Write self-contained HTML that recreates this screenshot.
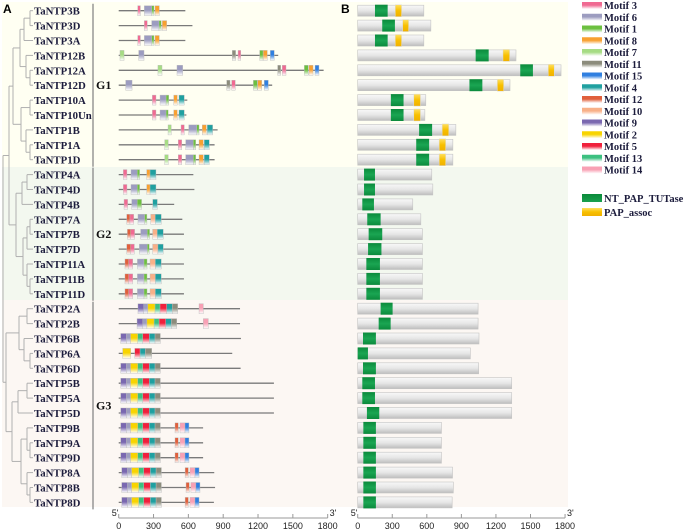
<!DOCTYPE html>
<html><head><meta charset="utf-8"><style>
html,body{margin:0;padding:0;background:#fff;}
svg{display:block;font-family:"Liberation Serif",serif;}
</style></head><body>
<svg id="fig" width="685" height="531" viewBox="0 0 685 531" xmlns="http://www.w3.org/2000/svg">
<defs id="defs"></defs>
<rect x="2" y="2" width="566" height="165" fill="#fffff2"/>
<rect x="2" y="167" width="566" height="133" fill="#f3f8ef"/>
<rect x="2" y="300" width="566" height="207" fill="#fcf7f3"/>
<text x="3" y="13" font-family="Liberation Sans,sans-serif" font-weight="bold" font-size="12">A</text>
<text x="341" y="13" font-family="Liberation Sans,sans-serif" font-weight="bold" font-size="12">B</text>
<g id="tree"></g>
<g id="labels"></g>
<g id="groups"></g>
<g id="motifs"></g>
<g id="domains"></g>
<g id="axes"></g>
<g id="legend"></g>
</svg>
<script>
const genes = ["TaNTP3B","TaNTP3D","TaNTP3A","TaNTP12B","TaNTP12A","TaNTP12D","TaNTP10A","TaNTP10Un","TaNTP1B","TaNTP1A","TaNTP1D",
"TaNTP4A","TaNTP4D","TaNTP4B","TaNTP7A","TaNTP7B","TaNTP7D","TaNTP11A","TaNTP11B","TaNTP11D",
"TaNTP2A","TaNTP2B","TaNTP6B","TaNTP6A","TaNTP6D","TaNTP5B","TaNTP5A","TaNTP5D","TaNTP9B","TaNTP9A","TaNTP9D","TaNTP8A","TaNTP8B","TaNTP8D"];
const lengths = [574,635,574,1374,1765,1322,591,583,852,826,826,
643,652,478,548,562,562,562,562,562,
1045,1045,1053,978,1050,1337,1337,1337,727,727,727,823,830,820];
const ntStart = [150,213,150,1024,1411,970,288,288,533,508,508,55,55,40,83,95,90,75,75,75,199,182,46,0,46,40,40,80,49,49,49,49,49,49];
const ntEnd   = [260,323,260,1137,1521,1082,398,398,646,620,620,150,150,141,199,213,206,193,193,193,303,286,158,89,158,150,150,187,158,158,158,158,158,158];
const papStart = [326,390,326,1261,1654,1212,487,487,733,707,707];
const papEnd   = [381,442,381,1319,1706,1267,545,545,791,764,764];
const motifNames = ["Motif 3","Motif 6","Motif 1","Motif 8","Motif 7","Motif 11","Motif 15","Motif 4","Motif 12","Motif 10","Motif 9","Motif 2","Motif 5","Motif 13","Motif 14"];
const motifColors = ["#f06a92","#9c9cc0","#6cc040","#f8a030","#a6dc84","#8c8c7c","#2f7fe0","#1fa0a0","#e0603c","#f8b088","#7a68b0","#f8d400","#f0203c","#3cc080","#f8a0b4"];
const M={m3:0,m6:1,m1:2,m8:3,m7:4,m11:5,m15:6,m4:7,m12:8,m10:9,m9:10,m2:11,m5:12,m13:13,m14:14};
function g3core(s){return [[M.m9,s,s+50],[M.m6,s+50,s+85],[M.m2,s+85,s+147],[M.m13,s+147,s+190],[M.m5,s+190,s+247],[M.m4,s+247,s+296],[M.m11,s+296,s+342]];}
const geneMotifs = [
[[0,164,187],[1,221,284],[2,284,304],[3,313,350]],
[[0,221,246],[1,284,347],[2,347,367],[3,376,413]],
[[0,164,187],[1,221,284],[2,284,304],[3,313,350]],
[[4,11,46],[1,172,218],[5,978,1007],[0,1028,1051],[2,1214,1243],[3,1245,1280],[6,1306,1340]],
[[4,338,373],[1,502,551],[5,1369,1395],[0,1409,1441],[2,1599,1633],[3,1639,1674],[6,1691,1725]],
[[1,60,115],[5,930,959],[0,973,1004],[2,1160,1194],[3,1197,1232],[6,1254,1289]],
[[0,290,321],[1,356,408],[2,408,431],[3,474,505],[7,519,565]],
[[0,290,321],[1,356,408],[2,408,426],[3,474,505],[7,519,565]],
[[4,425,453],[0,537,565],[1,603,672],[2,672,692],[3,720,755],[7,763,809]],
[[4,396,427],[0,513,543],[1,577,643],[2,643,663],[3,692,729],[7,737,780]],
[[4,396,427],[0,513,543],[1,577,643],[2,643,663],[3,692,729],[7,737,780]],
[[0,40,71],[1,106,160],[2,160,180],[3,241,270],[7,270,321]],
[[0,40,71],[1,106,160],[2,160,180],[3,241,270],[7,270,321]],
[[0,46,77],[1,112,160],[2,160,197],[7,293,333]],
[[8,69,97],[0,97,129],[1,166,223],[2,223,243],[9,276,315],[7,315,367]],
[[8,75,103],[0,103,137],[1,189,246],[2,246,266],[9,292,332],[7,332,384]],
[[8,69,103],[0,103,135],[1,178,246],[2,246,263],[9,292,338],[7,338,384]],
[[8,54,86],[0,86,121],[1,161,218],[2,218,244],[9,270,316],[7,316,367]],
[[8,54,86],[0,86,121],[1,161,218],[2,218,244],[9,270,316],[7,316,367]],
[[8,54,86],[0,86,121],[1,161,218],[2,218,244],[9,270,316],[7,316,367]],
g3core(166).concat([[14,692,729]]),
g3core(158).concat([[14,729,772]]),
g3core(17),
[[11,34,103],[12,138,184],[7,184,230],[5,230,285]],
g3core(17),
g3core(17),g3core(17),g3core(17),
g3core(17).concat([[8,485,513],[14,528,571],[6,571,605]]),
g3core(17).concat([[8,485,513],[14,528,571],[6,571,605]]),
g3core(17).concat([[8,485,513],[14,528,571],[6,571,605]]),
g3core(26).concat([[8,572,600],[14,614,657],[6,657,692]]),
g3core(26).concat([[8,580,608],[14,622,665],[6,665,700]]),
g3core(26).concat([[8,572,600],[14,614,657],[6,657,692]])
];
const axisTicks = [0,300,600,900,1200,1500,1800];
const groupNames = ["G1","G2","G3"];
const groupFirst = [0,11,20];
const groupLast = [10,19,33];
const tree = [3,[9,[13,[20,[24,[30,0,1],2],[26,3,[30,4,5]]],[21,[30,6,7],[26,8,[30,9,10]]]],[16,[22,[27,11,12],13],[23,[27,[30,14,15],16],[27,17,[30,18,19]]]]],[6,[19,[27,20,21],[24,22,[30,23,24]]],[12,[18,[27,25,26],27],[21,[27,28,[30,29,30]],[27,31,[30,32,33]]]]]];

const NS="http://www.w3.org/2000/svg";
function el(tag,attrs,parent){const e=document.createElementNS(NS,tag);for(const k in attrs)e.setAttribute(k,attrs[k]);parent.appendChild(e);return e;}
const rowY=i=>10.7+i*14.9;
const xA=a=>118.7+a*0.1161;
const xB=a=>357.7+a*0.1152;
const defs=document.getElementById('defs');
function grad(id,stops){const g=el('linearGradient',{id:id,x1:0,y1:0,x2:0,y2:1},defs);stops.forEach(s=>el('stop',{offset:s[0],'stop-color':s[1]},g));}
motifColors.forEach((c,i)=>grad('mg'+i,[[0,c],[0.45,c],[1,'#ffffff']]));
grad('barg',[[0,'#f8f8f8'],[0.5,'#e6e6e6'],[1,'#bdbdbd']]);
grad('ntg',[[0,'#0b8a3c'],[0.5,'#1aa552'],[1,'#0b8a3c']]);
grad('papg',[[0,'#ffe060'],[0.5,'#f8c000'],[1,'#f0b000']]);
grad('ntleg',[[0,'#0a8a3a'],[1,'#1aa04e']]);

// tree
const T=document.getElementById('tree');
function drawNode(n){
  if(typeof n==='number'){return rowY(n);}
  const x=n[0];const ys=[n[1],n[2]].map(c=>{const y=drawNode(c);const cx=(typeof c==='number')?33:c[0];
    const l=el('line',{x1:x,y1:y,x2:cx,y2:y,stroke:'#b0b0b0','stroke-width':1},T);
    
    
    return y;});
  const v=el('line',{x1:x,y1:ys[0],x2:x,y2:ys[1],stroke:'#b0b0b0','stroke-width':1},T);
  
  
  return (ys[0]+ys[1])/2;
}
drawNode(tree);

// labels
const L=document.getElementById('labels');
genes.forEach((g,i)=>{const t=el('text',{x:34,y:rowY(i)+4,'font-size':'10.8','font-weight':'bold',fill:'#1c1c3c'},L);t.textContent=g;
  
  });

// groups
const G=document.getElementById('groups');
groupNames.forEach((n,k)=>{const y1=rowY(groupFirst[k])-7,y2=rowY(groupLast[k])+7;
  const l=el('line',{x1:93,y1:y1,x2:93,y2:y2,stroke:'#888','stroke-width':1.3},G);
  
  
  const t=el('text',{x:96,y:(y1+y2)/2+4,'font-size':'12','font-weight':'bold',fill:'#111'},G);t.textContent=n;
  
  });

// motifs
const MG=document.getElementById('motifs');
genes.forEach((g,i)=>{const y=rowY(i);
  const l=el('line',{x1:xA(0),y1:y,x2:xA(lengths[i]),y2:y,stroke:'#7a7a7a','stroke-width':1.3},MG);
  
  
  geneMotifs[i].forEach(m=>{const r=el('rect',{x:xA(m[1]),y:y-5,width:Math.max(1.5,xA(m[2])-xA(m[1])),height:10,fill:'url(#mg'+m[0]+')',stroke:'#bbbbbb','stroke-width':0.4},MG);
    
    });
});

// domains
const D=document.getElementById('domains');
genes.forEach((g,i)=>{const y=rowY(i);
  const b=el('rect',{x:xB(0),y:y-5.5,width:xB(lengths[i])-xB(0),height:11,fill:'url(#barg)',stroke:'#c4c4c4','stroke-width':0.6},D);
  
  
  const n=el('rect',{x:xB(ntStart[i]),y:y-6,width:xB(ntEnd[i])-xB(ntStart[i]),height:12,fill:'url(#ntg)'},D);
  
  
  if(i<papStart.length){const p=el('rect',{x:xB(papStart[i]),y:y-6,width:xB(papEnd[i])-xB(papStart[i]),height:12,fill:'url(#papg)',stroke:'#ddd','stroke-width':0.5},D);
    
    }
});

// axes
const A=document.getElementById('axes');
[[xA,'a'],[xB,'b']].forEach(([f,id])=>{const y=518;
  const l=el('line',{x1:f(0),y1:y,x2:f(1800),y2:y,stroke:'#999','stroke-width':1},A);
  
  
  axisTicks.forEach(v=>{const tk=el('line',{x1:f(v),y1:y,x2:f(v),y2:y-4,stroke:'#999','stroke-width':1},A);
    
    
    const t=el('text',{x:f(v),y:529,'font-size':'9','text-anchor':'middle','font-family':'Liberation Sans,sans-serif',fill:'#222'},A);t.textContent=v;
    
    });
  const a=el('text',{x:f(0)-7,y:516,'font-size':'9','font-family':'Liberation Sans,sans-serif',fill:'#222'},A);a.textContent="5'";
  
  
  const b=el('text',{x:f(1800)+2,y:516,'font-size':'9','font-family':'Liberation Sans,sans-serif',fill:'#222'},A);b.textContent="3'";
  
  
});

// legend
const LG=document.getElementById('legend');
motifNames.forEach((n,i)=>{const y=5+i*11.75;
  const r=el('rect',{x:582,y:y-3,width:20,height:7,fill:'url(#mg'+i+')'},LG);
  
  
  const t=el('text',{x:604,y:y+4,'font-size':'10.5','font-weight':'bold',fill:'#1c1c3c'},LG);t.textContent=n;
  
  });
const r1=el('rect',{x:582,y:194,width:20,height:8,fill:'url(#ntleg)'},LG);


const t1=el('text',{x:604,y:202,'font-size':'10.5','font-weight':'bold',fill:'#1c1c3c'},LG);t1.textContent="NT_PAP_TUTase";


const r2=el('rect',{x:582,y:208,width:20,height:8,fill:'url(#papg)'},LG);


const t2=el('text',{x:604,y:216,'font-size':'10.5','font-weight':'bold',fill:'#1c1c3c'},LG);t2.textContent="PAP_assoc";


</script>
</body></html>
